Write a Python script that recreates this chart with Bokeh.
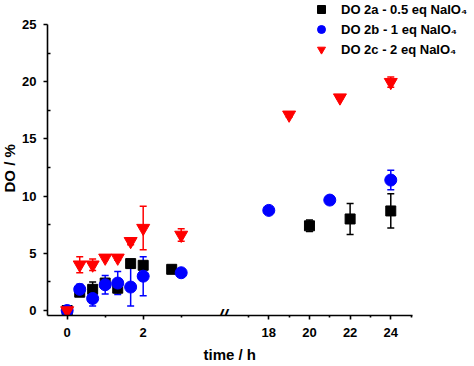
import numpy as np
from bokeh.plotting import figure
from bokeh.models import (ColumnDataSource, Whisker, TeeHead, FixedTicker,
                          CustomJSTickFormatter, Legend, LegendItem, Range1d, Title)
from bokeh.core.properties import value
from bokeh.embed import file_html
from bokeh.resources import INLINE

# ---- data (time in h, DO in %) ----
t_a = [0, 0.33, 0.67, 1, 1.33, 1.67, 2, 2.75, 20, 22, 24]
do_a = [0, 1.6, 1.85, 2.4, 1.95, 4.1, 3.95, 3.6, 7.4, 8.0, 8.7]
err_a = [0.1, 0.2, 0.65, 0.3, 0.4, 0.15, 0.3, 0.2, 0.5, 1.35, 1.5]

t_b = [0, 0.33, 0.67, 1, 1.33, 1.67, 2, 3, 18, 21, 24]
do_b = [0, 1.85, 1.05, 2.25, 2.4, 2.05, 3.0, 3.3, 8.75, 9.65, 11.4]
err_b = [0.2, 0.45, 0.65, 0.8, 1.0, 1.65, 1.7, 0.25, 0.0, 0.0, 0.85]

t_c = [0, 0.33, 0.67, 1, 1.33, 1.67, 2, 3, 19, 21.5, 24]
do_c = [0, 4.0, 4.0, 4.6, 4.6, 6.05, 7.2, 6.6, 17.1, 18.6, 19.95]
err_c = [0.0, 0.7, 0.5, 0.15, 0.2, 0.3, 1.9, 0.55, 0.2, 0.1, 0.45]

labels = ["DO 2a - 0.5 eq NaIO\u2084", "DO 2b - 1 eq NaIO\u2084", "DO 2c - 2 eq NaIO\u2084"]
colors = ["#000000", "#0000FF", "#FF0000"]
x_title = "time / h"
y_title = "DO / %"

major_hours = [0, 2, 18, 20, 22, 24]
minor_hours = [1, 3, 17, 19, 21, 23, 25]
y_major = [0, 5, 10, 15, 20, 25]
y_minor = [2.5, 7.5, 12.5, 17.5, 22.5]

# ---- broken x axis: 0..~4 h, then 16..25 h compressed ----
BREAK_D = 4.10
SEG2_D0 = 5.305   # display position of 18 h
SEG2_X0 = 18.0
SEG2_SCALE = 0.535


def to_disp(t):
    t = np.asarray(t, dtype=float)
    return np.where(t < 10, t, SEG2_D0 + (t - SEG2_X0) * SEG2_SCALE)


FONT = "Liberation Sans"
Y0, Y1 = -0.436, 27.09
X0, X1 = -0.518, 10.718
X_AXIS_END = 9.08

p = figure(width=474, height=366, output_backend="svg", toolbar_location=None,
           x_range=Range1d(X0, X1), y_range=Range1d(Y0, Y1),
           min_border_left=47, min_border_right=0, min_border_top=0,
           min_border_bottom=50)
p.grid.visible = False
p.outline_line_color = None
p.background_fill_color = "white"
p.border_fill_color = "white"

markers = ["square", "circle", "inverted_triangle"]
sizes = [10, 12, 13]
series = [(t_a, do_a, err_a), (t_b, do_b, err_b), (t_c, do_c, err_c)]
renderers = []
for (t, d, e), col, mk, sz in zip(series, colors, markers, sizes):
    xd = to_disp(t)
    d = np.asarray(d, float)
    e = np.asarray(e, float)
    keep = e > 0
    esrc = ColumnDataSource(dict(x=xd[keep], upper=(d + e)[keep], lower=(d - e)[keep]))
    w = Whisker(base="x", upper="upper", lower="lower", source=esrc,
                line_color=col, line_width=1.5,
                upper_head=TeeHead(size=7, line_color=col, line_width=1.5),
                lower_head=TeeHead(size=7, line_color=col, line_width=1.5))
    p.add_layout(w)
    src = ColumnDataSource(dict(x=xd, y=d))
    r = p.scatter("x", "y", source=src, marker=mk, size=sz,
                  fill_color=col, line_color=col)
    renderers.append(r)

# axis break mark
p.text(x=[BREAK_D], y=[Y0], text=["//"], text_align="center",
       text_baseline="middle", text_font_size="17px", text_font_style="bold italic",
       text_color="black", text_font=value(FONT))

# x axis
xa = p.xaxis[0]
xa.bounds = (X0, X_AXIS_END)
xa.ticker = FixedTicker(ticks=list(to_disp(major_hours)),
                        minor_ticks=list(to_disp(minor_hours)))
xa.formatter = CustomJSTickFormatter(
    args=dict(b=BREAK_D, d0=SEG2_D0, x0=SEG2_X0, s=SEG2_SCALE),
    code="return (tick < b ? Math.round(tick) : Math.round(x0 + (tick - d0) / s)).toString();")

ya = p.yaxis[0]
ya.bounds = (Y0, 25)
ya.ticker = FixedTicker(ticks=y_major, minor_ticks=y_minor)

for ax in (xa, ya):
    ax.axis_line_width = 1.6
    ax.major_tick_line_width = 1.6
    ax.minor_tick_line_width = 1.6
    ax.major_tick_out = 4
    ax.major_tick_in = 0
    ax.major_label_text_font = FONT
    ax.major_label_text_font_style = "bold"
    ax.major_label_text_font_size = "13px"
    ax.major_label_text_color = "black"

xa.minor_tick_out = 2
xa.minor_tick_in = 0
xa.major_label_standoff = 8
ya.minor_tick_out = 0
ya.minor_tick_in = 3
ya.major_label_standoff = 7

# axis titles placed along the axes (the x axis is broken, so centre on its visible part)
tx = Title(text=x_title, align="left", offset=156, vertical_align="bottom",
           standoff=8, text_font=FONT, text_font_style="bold",
           text_font_size="15px", text_color="black")
p.add_layout(tx, "below")
ty = Title(text=y_title, align="left", offset=123, vertical_align="top",
           standoff=0, text_font=FONT, text_font_style="bold",
           text_font_size="15px", text_color="black")
p.add_layout(ty, "left")

legend = Legend(items=[LegendItem(label=l, renderers=[r]) for l, r in zip(labels, renderers)],
                location=(263, 256), orientation="vertical",
                glyph_width=22, glyph_height=20, label_height=20,
                label_standoff=9, spacing=0, padding=0, margin=0,
                border_line_color=None, background_fill_alpha=0,
                label_text_font=FONT, label_text_font_style="bold",
                label_text_font_size="13px", label_text_color="black")
p.add_layout(legend)

open("out.html", "w").write(file_html(p, INLINE))
